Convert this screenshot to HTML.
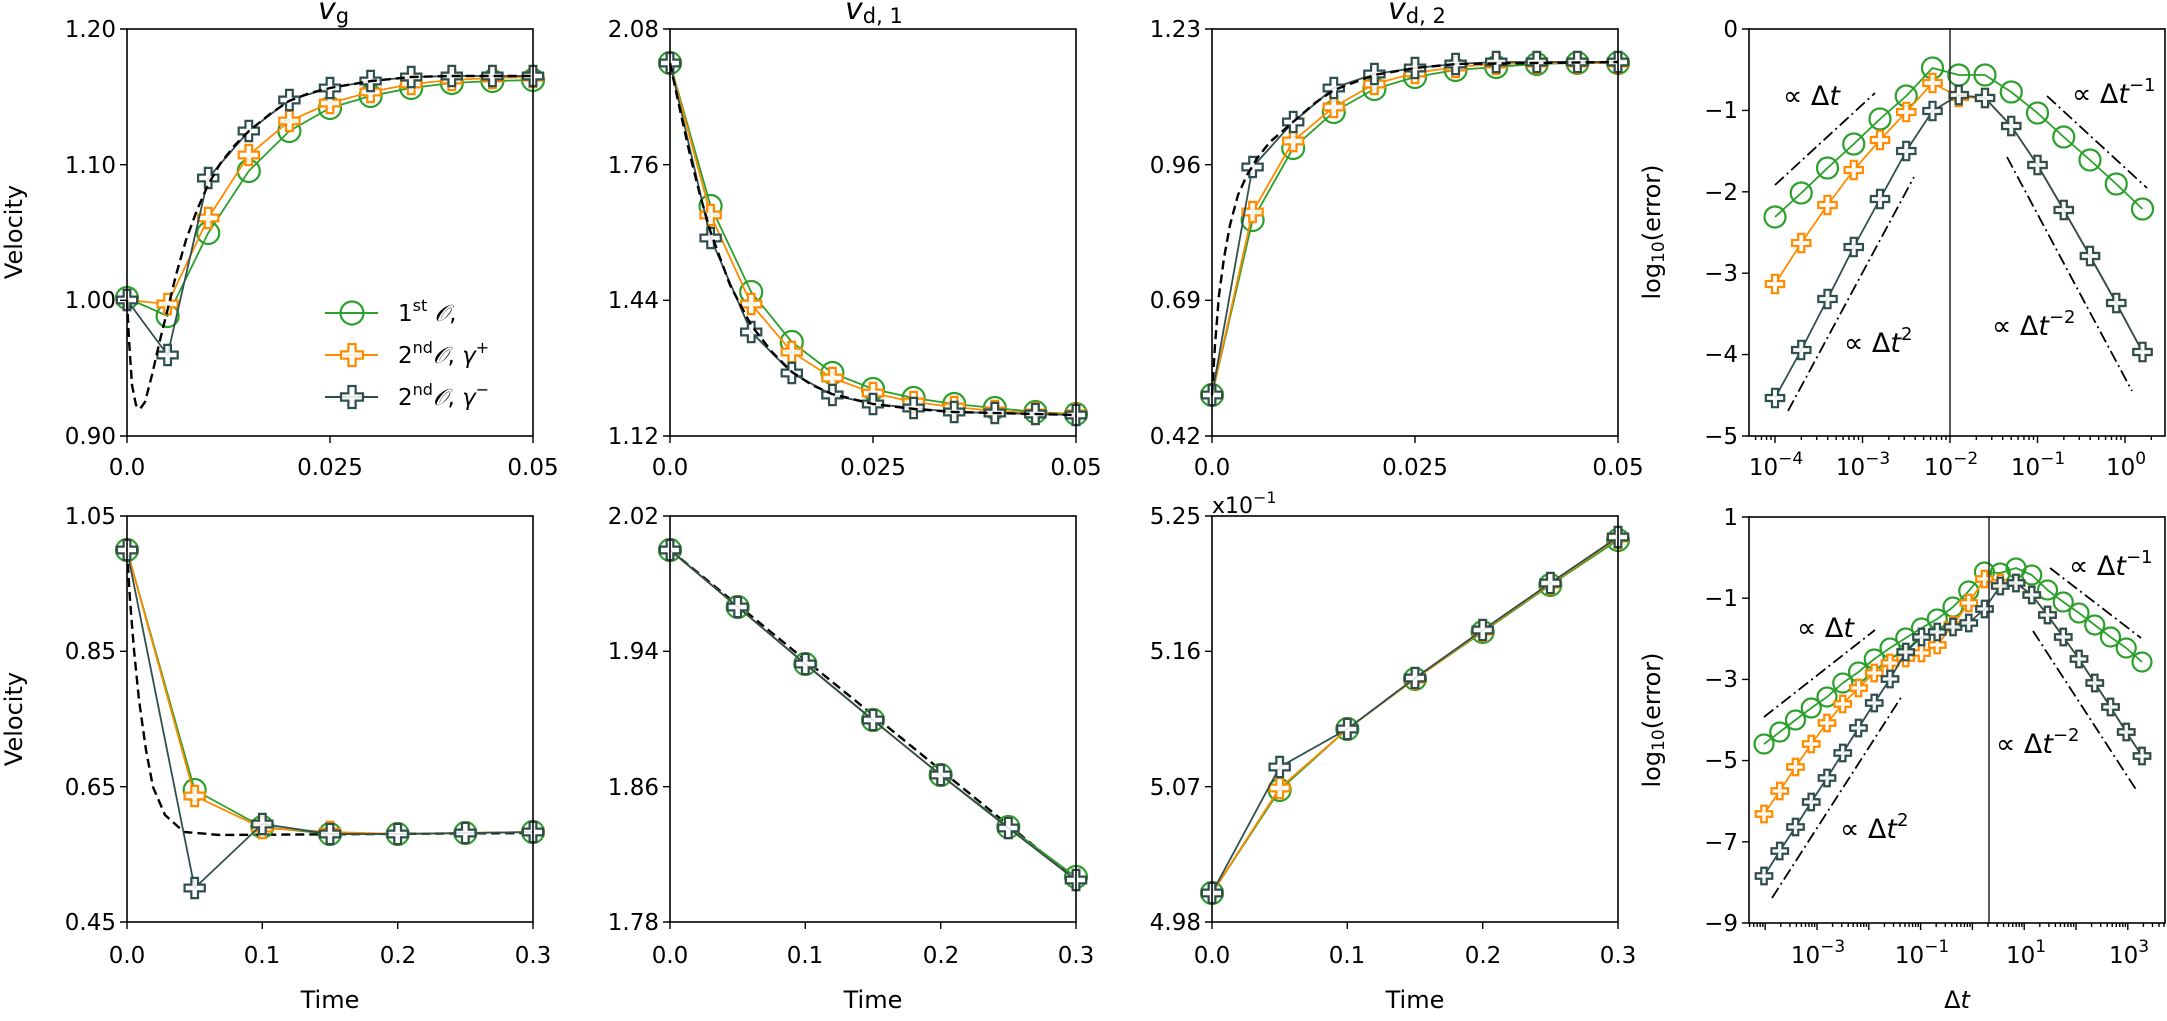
<!DOCTYPE html>
<html><head><meta charset="utf-8">
<style>
html,body{margin:0;padding:0;background:#fff;}
svg{display:block;font-family:"DejaVu Sans","Liberation Sans",sans-serif;}
.tk{font-size:23px;fill:#000;}
.ann{font-size:27px;fill:#000;}
</style></head>
<body>
<svg id="g" width="2167" height="1021" viewBox="0 0 2167 1021" xmlns="http://www.w3.org/2000/svg">
<rect width="2167" height="1021" fill="#fff"/>
<g id="data"></g>
<g id="frames" fill="none" stroke="#000" stroke-width="1.6"></g>

<text x="318" y="19" font-size="30" font-style="italic">v<tspan font-size="21" font-style="normal" dy="4">g</tspan></text>
<text x="845" y="19" font-size="30" font-style="italic">v<tspan font-size="21" font-style="normal" dy="4">d, 1</tspan></text>
<text x="1388" y="19" font-size="30" font-style="italic">v<tspan font-size="21" font-style="normal" dy="4">d, 2</tspan></text>

<g class="tk" text-anchor="end">
<text x="116" y="37">1.20</text><text x="116" y="173">1.10</text><text x="116" y="308">1.00</text><text x="116" y="444">0.90</text>
<text x="659" y="37">2.08</text><text x="659" y="173">1.76</text><text x="659" y="308">1.44</text><text x="659" y="444">1.12</text>
<text x="1201" y="37">1.23</text><text x="1201" y="173">0.96</text><text x="1201" y="308">0.69</text><text x="1201" y="444">0.42</text>
<text x="116" y="524">1.05</text><text x="116" y="659">0.85</text><text x="116" y="795">0.65</text><text x="116" y="930">0.45</text>
<text x="659" y="524">2.02</text><text x="659" y="659">1.94</text><text x="659" y="795">1.86</text><text x="659" y="930">1.78</text>
<text x="1201" y="524">5.25</text><text x="1201" y="659">5.16</text><text x="1201" y="795">5.07</text><text x="1201" y="930">4.98</text>
<text x="1738" y="37">0</text><text x="1738" y="118">−1</text><text x="1738" y="200">−2</text><text x="1738" y="281">−3</text><text x="1738" y="362">−4</text><text x="1738" y="444">−5</text>
<text x="1738" y="525">1</text><text x="1738" y="606">−1</text><text x="1738" y="687">−3</text><text x="1738" y="768">−5</text><text x="1738" y="850">−7</text><text x="1738" y="931">−9</text>
</g>
<g class="tk" text-anchor="middle">
<text x="127" y="475">0.0</text><text x="330" y="475">0.025</text><text x="533" y="475">0.05</text>
<text x="670" y="475">0.0</text><text x="873" y="475">0.025</text><text x="1076" y="475">0.05</text>
<text x="1212" y="475">0.0</text><text x="1415" y="475">0.025</text><text x="1618" y="475">0.05</text>
<text x="127" y="963">0.0</text><text x="262" y="963">0.1</text><text x="398" y="963">0.2</text><text x="533" y="963">0.3</text>
<text x="670" y="963">0.0</text><text x="805" y="963">0.1</text><text x="941" y="963">0.2</text><text x="1076" y="963">0.3</text>
<text x="1212" y="963">0.0</text><text x="1347" y="963">0.1</text><text x="1483" y="963">0.2</text><text x="1618" y="963">0.3</text>
<text x="1776" y="475">10<tspan font-size="17" dy="-11">−4</tspan></text>
<text x="1863" y="475">10<tspan font-size="17" dy="-11">−3</tspan></text>
<text x="1951" y="475">10<tspan font-size="17" dy="-11">−2</tspan></text>
<text x="2038" y="475">10<tspan font-size="17" dy="-11">−1</tspan></text>
<text x="2126" y="475">10<tspan font-size="17" dy="-11">0</tspan></text>
<text x="1818" y="963">10<tspan font-size="17" dy="-11">−3</tspan></text>
<text x="1922" y="963">10<tspan font-size="17" dy="-11">−1</tspan></text>
<text x="2026" y="963">10<tspan font-size="17" dy="-11">1</tspan></text>
<text x="2129" y="963">10<tspan font-size="17" dy="-11">3</tspan></text>
</g>
<text x="1212" y="513" font-size="22">x10<tspan font-size="16" dy="-10">−1</tspan></text>

<g font-size="24" text-anchor="middle">
<text transform="translate(22,232) rotate(-90)">Velocity</text>
<text transform="translate(22,719) rotate(-90)">Velocity</text>
<text transform="translate(1660,232) rotate(-90)">log<tspan font-size="17" dy="4">10</tspan><tspan dy="-4">(error)</tspan></text>
<text transform="translate(1660,720) rotate(-90)">log<tspan font-size="17" dy="4">10</tspan><tspan dy="-4">(error)</tspan></text>
<text x="330" y="1008">Time</text><text x="873" y="1008">Time</text><text x="1415" y="1008">Time</text>
<text x="1957" y="1008">Δ<tspan font-style="italic">t</tspan></text>
</g>

<g class="ann">
<text x="1783" y="105">∝ Δ<tspan font-style="italic">t</tspan></text>
<text x="1844" y="352">∝ Δ<tspan font-style="italic">t</tspan><tspan font-size="18" dy="-12">2</tspan></text>
<text x="1992" y="335">∝ Δ<tspan font-style="italic">t</tspan><tspan font-size="18" dy="-12">−2</tspan></text>
<text x="2072" y="103">∝ Δ<tspan font-style="italic">t</tspan><tspan font-size="18" dy="-12">−1</tspan></text>
<text x="1797" y="637">∝ Δ<tspan font-style="italic">t</tspan></text>
<text x="1840" y="838">∝ Δ<tspan font-style="italic">t</tspan><tspan font-size="18" dy="-12">2</tspan></text>
<text x="1996" y="753">∝ Δ<tspan font-style="italic">t</tspan><tspan font-size="18" dy="-12">−2</tspan></text>
<text x="2069" y="575">∝ Δ<tspan font-style="italic">t</tspan><tspan font-size="18" dy="-12">−1</tspan></text>
</g>

<g font-size="23">
<text x="398" y="321">1<tspan font-size="16" dy="-10">st</tspan><tspan dy="10" font-family="DejaVu Serif" font-style="italic"> 𝒪</tspan>,</text>
<text x="398" y="363">2<tspan font-size="16" dy="-10">nd</tspan><tspan dy="10" font-family="DejaVu Serif" font-style="italic">𝒪</tspan>,  <tspan font-style="italic">γ</tspan><tspan font-size="16" dy="-10">+</tspan></text>
<text x="398" y="405">2<tspan font-size="16" dy="-10">nd</tspan><tspan dy="10" font-family="DejaVu Serif" font-style="italic">𝒪</tspan>,  <tspan font-style="italic">γ</tspan><tspan font-size="16" dy="-10">−</tspan></text>
</g>
</svg>
<script>
(function(){
const NS="http://www.w3.org/2000/svg";
const D=document.getElementById('data'), F=document.getElementById('frames');
function el(p,t,a){const e=document.createElementNS(NS,t);for(const k in a)e.setAttribute(k,a[k]);p.appendChild(e);return e;}
const G="#2ca02c",O="#ff8c00",K="#2f4f4f";
function pl(pts,c,w,extra){const a={points:pts.map(p=>p.join(',')).join(' '),fill:'none',stroke:c,'stroke-width':w||1.8,'stroke-linejoin':'round'};Object.assign(a,extra||{});el(D,'polyline',a);}
function circ(x,y,c,r){el(D,'circle',{cx:x,cy:y,r:r,fill:'none',stroke:c,'stroke-width':2.2});}
function plus(x,y,c,s){const L=s,a=s*0.33;const p=[[-a,-L],[a,-L],[a,-a],[L,-a],[L,a],[a,a],[a,L],[-a,L],[-a,a],[-L,a],[-L,-a],[-a,-a]].map(q=>(x+q[0])+','+(y+q[1])).join(' ');el(D,'polygon',{points:p,fill:'#fff','fill-opacity':0.85,stroke:c,'stroke-width':2.2,'stroke-linejoin':'miter'});}
function ser(xs,ys,c,m,s){const pts=xs.map((x,i)=>[x,ys[i]]);pl(pts,c);pts.forEach(p=>m==='o'?circ(p[0],p[1],c,s):plus(p[0],p[1],c,s*0.92));}
function xsT(L){const r=[];for(let k=0;k<=10;k++)r.push(L+40.6*k);return r;}
function xsB(L){const r=[];for(let k=0;k<=6;k++)r.push(L+406*k/6);return r;}
const dash={'stroke-dasharray':'9,5'};
const S=11;
let X=xsT(127);
ser(X,[298,316,233,171,131,108,96,88,83,81,80],G,'o',S);
ser(X,[300,304,218,155,121,103,92,84,80,78,77],O,'p',S);
ser(X,[300,355,178,131,100,88,81,77,76,76,76],K,'p',S);
pl([[127,300],[129,340],[132,385],[136,405],[140,409],[145,402],[152,375],[160,340],[167,312],[176,275],[186,240],[197,210],[208,185],[220,164],[235,145],[249,131],[270,114],[289,101],[310,93],[330,88],[371,81],[411,77],[452,76],[533,76]],'#000',2.4,dash);
X=xsT(670);
ser(X,[63,206,292,342,373,389,398,404,408,412,414],G,'o',S);
ser(X,[63,215,304,352,378,393,402,407,411,413,414],O,'p',S);
ser(X,[63,238,332,373,395,404,408,412,413,414,415],K,'p',S);
pl([[670,63],[680,110],[690,155],[700,195],[710.6,232],[730,285],[751,325],[772,352],[792,372],[812,385],[832,394],[873,404],[914,409],[954,412],[1076,415]],'#000',2.4,dash);
X=xsT(1212);
ser(X,[395,220,148,112,89,77,70,67,64,63,63],G,'o',S);
ser(X,[395,212,141,107,84,73,67,64,63,63,63],O,'p',S);
ser(X,[395,167,122,88,74,68,64,62,62,62,62],K,'p',S);
pl([[1212,395],[1215,345],[1219,295],[1224,258],[1230,225],[1238,195],[1247,175],[1258,157],[1270,142],[1293,122],[1315,103],[1334,90],[1374,75],[1415,68],[1456,64],[1618,62]],'#000',2.4,dash);
X=xsB(127);
pl([[127,550],[130,600],[134,650],[139,700],[146,750],[153,787],[165,815],[184,832],[220,835],[533,833]],'#000',2.4,dash);
ser(X,[550,790,827,834,834,833,832],G,'o',S);
ser(X,[550,796,828,832,834,833,832],O,'p',S);
ser(X,[550,888,824,834,834,833,832],K,'p',S);
X=xsB(670);
pl([[670,550],[1076,880]],'#000',2.4,dash);
ser(X,[550,607,664,720,775,827,877],G,'o',S);
ser(X,[550,607,664,720,775,828,880],O,'p',S);
ser(X,[550,607,664,720,775,828,880],K,'p',S);
X=xsB(1212);
ser(X,[893,790,729,679,632,585,540],G,'o',S);
ser(X,[893,788,729,679,631,584,538],O,'p',S);
ser(X,[893,767,729,678,630,583,537],K,'p',S);
let X4=[];for(let k=0;k<15;k++)X4.push(1775+26.25*k);
const dd={'stroke-dasharray':'12,4,2,4'};
[[1775,185,1875,93],[1788,411,1914,177],[2047,96,2147,188],[2007,157,2132,391]].forEach(l=>pl([[l[0],l[1]],[l[2],l[3]]],'#000',1.8,dd));
ser(X4,[217,193,168,144,119,96,68,75,75,92,113,137,160,184,209],G,'o',10.5);
ser(X4,[284,243,205,170,140,112,83,97,98,126,165,210,256,303,352],O,'p',10);
ser(X4,[398,350,299,247,199,151,111,95,98,126,165,210,256,303,352],K,'p',10);
let X5=[];for(let k=0;k<25;k++)X5.push(1764+15.75*k);
[[1764,717,1875,630],[1772,898,1902,696],[2050,568,2141,638],[2033,631,2137,791]].forEach(l=>pl([[l[0],l[1]],[l[2],l[3]]],'#000',1.8,dd));
const dk=[876,851,827,802,778,753,728,703,679,652,637,632,627,623,609,586,583,595,615,637,659,683,707,732,756];
const og=[814,791,767,744,723,704,688,673,663,658,653,645,625,603,579,583].concat(dk.slice(16));
ser(X5,[744,732,720,708,697,683,672,659,648,638,628,619,607,591,572,573,568,575,590,602,613,625,637,648,662],G,'o',9.5);
ser(X5,og,O,'p',9);
ser(X5,dk,K,'p',9);
el(D,'line',{x1:1950,y1:29,x2:1950,y2:436,stroke:'#333','stroke-width':1.6});
el(D,'line',{x1:1989,y1:517,x2:1989,y2:923,stroke:'#333','stroke-width':1.6});
[[313,G,'o'],[355,O,'p'],[397,K,'p']].forEach(r=>{el(D,'line',{x1:325,y1:r[0],x2:378,y2:r[0],stroke:r[1],'stroke-width':2});r[2]==='o'?circ(352,r[0],r[1],11.5):plus(352,r[0],r[1],11);});
const panels=[[127,29,533,436],[670,29,1076,436],[1212,29,1618,436],[127,516,533,922],[670,516,1076,922],[1212,516,1618,922],[1749,29,2165,436],[1749,517,2165,923]];
panels.forEach(p=>el(F,'rect',{x:p[0],y:p[1],width:p[2]-p[0],height:p[3]-p[1]}));
let d='';
function yt(L,ys){ys.forEach(y=>d+=`M${L} ${y}h-7`);}
function xt(B,xs,len){xs.forEach(x=>d+=`M${x} ${B}v${len||7}`);}
[127,670,1212].forEach(L=>{yt(L,[29,164.7,300.3,436]);yt(L,[516,651.3,786.7,922]);xt(436,[L,L+203,L+406]);xt(922,[L,L+135.3,L+270.7,L+406]);});
yt(1749,[29,110.4,191.8,273.2,354.6,436]);
yt(1749,[517,598.2,679.4,760.6,841.8,923]);
const lm=[2,3,4,5,6,7,8,9].map(m=>Math.log10(m));
for(let dec=-5;dec<=0;dec++){const b=1950+87.5*(dec+2);if(b>=1749&&b<=2165)xt(436,[b],7);lm.forEach(l=>{const x=b+87.5*l;if(x>=1749&&x<=2165)xt(436,[x],4);});}
for(let dec=-5;dec<=3;dec++){const b=1817+51.8*(dec+3);if(b>=1749&&b<=2165)xt(923,[b],7);lm.forEach(l=>{const x=b+51.8*l;if(x>=1749&&x<=2165)xt(923,[x],4);});}
el(F,'path',{d:d,'stroke-width':1.4});
})();
</script>
</body></html>
